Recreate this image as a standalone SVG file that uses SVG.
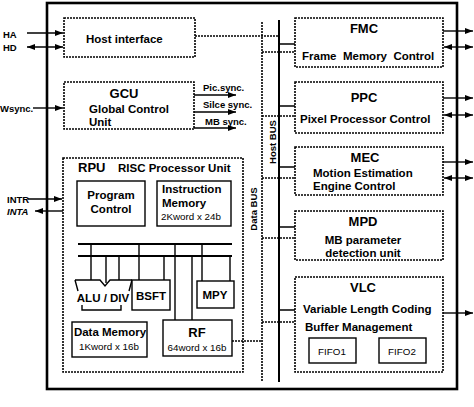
<svg xmlns="http://www.w3.org/2000/svg" width="474" height="407" viewBox="0 0 474 407">
<defs>
<marker id="ah" viewBox="0 0 8 6" refX="8" refY="3" markerWidth="8" markerHeight="6" orient="auto-start-reverse" markerUnits="userSpaceOnUse"><path d="M0,0 L8,3 L0,6 z" fill="#000"/></marker>
<style>
text{font-family:"Liberation Sans",Arial,sans-serif;fill:#000;font-weight:bold}
.t{font-size:13px}
.l{font-size:11.5px}
.s{font-size:9.8px;font-weight:normal}
.xs{font-size:9.5px}
.dot{fill:#fff;stroke:#000;stroke-width:1.6;stroke-dasharray:2 1}
.sol{fill:#fff;stroke:#000;stroke-width:1.4}
.w{stroke:#000;stroke-width:1.4;fill:none}
.wd{stroke:#000;stroke-width:1.6;fill:none;stroke-dasharray:2 1}
.bus{stroke:#000;stroke-width:2;fill:none}
.a{marker-end:url(#ah)}
.b{marker-start:url(#ah);marker-end:url(#ah)}
</style>
</defs>
<rect id="chip" x="47" y="3" width="410" height="386" fill="#fff" stroke="#000" stroke-width="2.6"/>
<g id="host"><rect class="dot" x="64" y="18" width="131" height="39"/><text class="l" x="86" y="43">Host interface</text></g>
<g id="gcu"><rect class="dot" x="64" y="82" width="130" height="47"/><text class="t" x="124" y="98" text-anchor="middle">GCU</text><text class="l" x="89" y="113">Global Control</text><text class="l" x="89" y="126">Unit</text></g>
<g id="rpu"><rect class="dot" x="63" y="158" width="180" height="214"/><text class="t" x="78" y="172">RPU</text><text class="l" x="118" y="172">RISC Processor Unit</text></g>
<g id="pc"><rect class="sol" x="77" y="181" width="68" height="45"/><text class="l" x="111" y="199" text-anchor="middle">Program</text><text class="l" x="111" y="213" text-anchor="middle">Control</text></g>
<g id="im"><rect class="sol" x="157" y="181" width="74" height="45"/><text class="l" x="162" y="193">Instruction</text><text class="l" x="162" y="207">Memory</text><text class="s" x="161" y="220">2Kword x 24b</text></g>
<g id="alu"><path class="w" d="M75,280 L100,280 L105,286 L110,280 L132,280 M75,280 L78,291 M132,280 L129,291 M82,305 L82,310 L121,310 L121,305"/><text class="l" x="103" y="302" text-anchor="middle">ALU / DIV</text></g>
<g id="bsft"><rect class="sol" x="132" y="280" width="38" height="30"/><text class="l" x="151" y="300" text-anchor="middle">BSFT</text></g>
<g id="mpy"><rect class="sol" x="197" y="281" width="37" height="27"/><text class="l" x="215" y="299" text-anchor="middle">MPY</text></g>
<g id="dm"><rect class="sol" x="72" y="322" width="75" height="35"/><text class="l" x="110" y="336" text-anchor="middle">Data Memory</text><text class="s" x="109" y="350" text-anchor="middle">1Kword x 16b</text></g>
<g id="rf"><rect class="sol" x="163" y="320" width="69" height="36"/><text class="t" x="197" y="337" text-anchor="middle">RF</text><text class="s" x="197" y="351" text-anchor="middle">64word x 16b</text></g>
<g id="fmc"><rect class="dot" x="295" y="18" width="148" height="49"/><text class="t" x="364" y="33" text-anchor="middle">FMC</text><text class="l" x="302" y="60" xml:space="preserve">Frame  Memory  Control</text></g>
<g id="ppc"><rect class="dot" x="295" y="82" width="148" height="51"/><text class="t" x="364" y="102" text-anchor="middle">PPC</text><text class="l" x="300" y="123">Pixel Processor Control</text></g>
<g id="mec"><rect class="dot" x="295" y="147" width="148" height="48"/><text class="t" x="365" y="162" text-anchor="middle">MEC</text><text class="l" x="313" y="177">Motion Estimation</text><text class="l" x="313" y="190">Engine Control</text></g>
<g id="mpd"><rect class="dot" x="295" y="211" width="148" height="49"/><text class="t" x="363" y="226" text-anchor="middle">MPD</text><text class="l" x="363" y="244" text-anchor="middle">MB parameter</text><text class="l" x="363" y="257" text-anchor="middle">detection unit</text></g>
<g id="vlc"><rect class="dot" x="295" y="277" width="148" height="95"/><text class="t" x="363" y="292" text-anchor="middle">VLC</text><text class="l" x="303" y="313">Variable Length Coding</text><text class="l" x="305" y="331">Buffer Management</text></g>
<g id="fifo1"><rect class="sol" x="309" y="338" width="47" height="25"/><text class="s" x="332" y="355" text-anchor="middle">FIFO1</text></g>
<g id="fifo2"><rect class="sol" x="379" y="338" width="47" height="25"/><text class="s" x="402" y="355" text-anchor="middle">FIFO2</text></g>
<g id="labels">
<text class="xs" x="3" y="38">HA</text><text class="xs" x="3" y="51">HD</text>
<text class="xs" x="0" y="112">Wsync.</text>
<text class="xs" x="7" y="203">INTR</text><text class="xs" x="7" y="215" font-style="italic">INTA</text>
<text class="xs" x="203" y="91">Pic.sync.</text><text class="xs" x="203" y="108">Silce sync.</text><text class="xs" x="205" y="125">MB sync.</text>
<text class="xs" transform="translate(276,142) rotate(-90)" text-anchor="middle">Host BUS</text>
<text class="xs" transform="translate(257,209) rotate(-90)" text-anchor="middle">Data BUS</text>
</g>
<g id="connectors">
<path class="wd" d="M262,22 V382"/>
<path class="bus" d="M279,20 V382"/>
<path class="wd" d="M195,36 H279"/>
<path class="w" d="M279,44 H295 M279,106 H295 M279,167 H295 M279,227 H295 M279,310 H295"/>
<path class="wd" d="M262,52 H295 M262,116 H295 M262,178 H295 M262,238 H295 M262,322 H295 M232,341 H262"/>
<path class="bus" d="M78,244 H232 M78,256 H232"/>
<path class="w" d="M91,244 V280 M106,256 V283 M119,256 V280 M139,244 V280 M164,256 V280 M175,244 V320 M192,256 V320 M202,244 V281 M230,256 V281"/>
<path class="w a" d="M27,33 H63"/>
<path class="w b" d="M27,47 H63"/>
<path class="w a" d="M33,108 H63"/>
<path class="w a" d="M28,199 H62"/>
<path class="w a" d="M63,211 H35"/>
<path class="w a" d="M194,95 H236"/>
<path class="w a" d="M194,112 H236"/>
<path class="w a" d="M194,128 H236"/>
<path class="w a" d="M443,31 H473"/>
<path class="w b" d="M444,47 H473"/>
<path class="w a" d="M443,98 H473"/>
<path class="w b" d="M444,115 H473"/>
<path class="w a" d="M443,162 H473"/>
<path class="w b" d="M444,178 H473"/>
<path class="w a" d="M443,313 H473"/>
</g>
</svg>
